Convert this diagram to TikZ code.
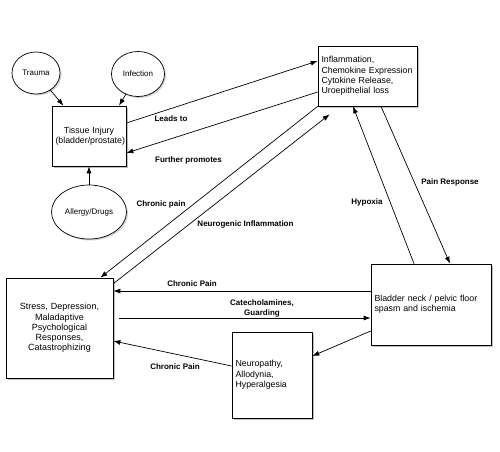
\documentclass[tikz,border=0pt]{standalone}
\usepackage{fontspec}
\setmainfont{Liberation Sans}
\usetikzlibrary{shapes.geometric,shadows,arrows.meta}

\begin{document}
\begin{tikzpicture}[x=1pt,y=-1pt,line width=0.7pt,
    >={Latex[length=7pt,width=5pt]},
    box/.style={draw,fill=white,inner xsep=3.5pt,inner ysep=0pt,
        drop shadow={shadow xshift=2pt,shadow yshift=-2pt,fill=black!50},
        font=\fontsize{8.8}{10.3}\selectfont},
    oval/.style={ellipse,draw,fill=white,inner sep=0pt,
        drop shadow={shadow xshift=1.5pt,shadow yshift=-1.5pt,fill=black!35},
        font=\fontsize{8}{9.6}\selectfont},
    lab/.style={inner sep=0pt,font=\bfseries\fontsize{8}{9.4}\selectfont,align=center}]
    \useasboundingbox (0,0) rectangle (500,451);
    % causes
    \node[oval,minimum width=48,minimum height=42] (trauma) at (36,73) {Trauma};
    \node[oval,minimum width=53,minimum height=45] (infect) at (138,74) {Infection};
    \node[oval,minimum width=75,minimum height=54] (allergy) at (89,212) {Allergy/Drugs};
    \node[box,text width=67pt,minimum height=60,align=center] (injury) at (89,136)
        {Tissue Injury\\(bladder/prostate)};
    % main boxes
    \node[box,text width=92pt,minimum height=60,align=left] (inflam) at (367.5,76)
        {Inflammation,\\Chemokine Expression\\Cytokine Release,\\Uroepithelial loss};
    \node[box,text width=113pt,minimum height=81,align=left] (bladder) at (431,304.5)
        {Bladder neck / pelvic floor\\spasm and ischemia};
    \node[box,text width=73pt,minimum height=86,align=left] (neuro) at (272,375)
        {Neuropathy,\\Allodynia,\\Hyperalgesia};
    \node[box,text width=100pt,minimum height=100,align=center,
        font=\fontsize{9}{10.3}\selectfont] (stress) at (59.5,328)
        {Stress, Depression,\\Maladaptive\\Psychological\\Responses,\\Catastrophizing};
    % arrows into tissue injury
    \draw[->] (trauma) -- (injury);
    \draw[->] (infect) -- ([xshift=30pt]injury.north);
    \draw[->] (allergy) -- (injury);
    % loops
    \draw[->] ([yshift=13pt]injury.east) -- ([yshift=15pt]inflam.west);
    \draw[->] ([yshift=-16pt]inflam.west) -- ([yshift=-17pt]injury.east);
    \draw[->] (inflam.south west) -- ([xshift=-13pt]stress.north east);
    \draw[->] ([yshift=-6pt]stress.north east) -- ([xshift=12pt,yshift=-8pt]inflam.south west);
    \draw[->] ([xshift=-17pt]bladder.north) -- ([xshift=-14.5pt]inflam.south);
    \draw[->] ([xshift=13.5pt]inflam.south) -- ([xshift=19pt]bladder.north);
    \draw[->] ([yshift=13.5pt]bladder.west) -- ([yshift=37pt]stress.east);
    \draw[->] ([xshift=6pt,yshift=10pt]stress.east) -- ([yshift=-13.5pt]bladder.west);
    \draw[->] ([yshift=-26.5pt]bladder.west) -- ([yshift=19pt]neuro.east);
    \draw[->] ([yshift=9pt]neuro.west) -- ([yshift=-13pt]stress.east);
    % labels
    \node[lab] (leads) at (171,119) {Leads to};
    \node[lab] (further) at (188.5,160) {Further promotes};
    \node[lab] (chronic1) at (161,204) {Chronic pain};
    \node[lab] (neurogen) at (245.5,224) {Neurogenic Inflammation};
    \node[lab] (painresp) at (450,182) {Pain Response};
    \node[lab] (hypoxia) at (367,202) {Hypoxia};
    \node[lab] (chronic2) at (192,284) {Chronic Pain};
    \node[lab,font=\bfseries\fontsize{8}{9.2}\selectfont] (catechol) at (262,308.5) {Catecholamines,\\Guarding};
    \node[lab] (chronic3) at (175,367) {Chronic Pain};
\end{tikzpicture}
\end{document}
